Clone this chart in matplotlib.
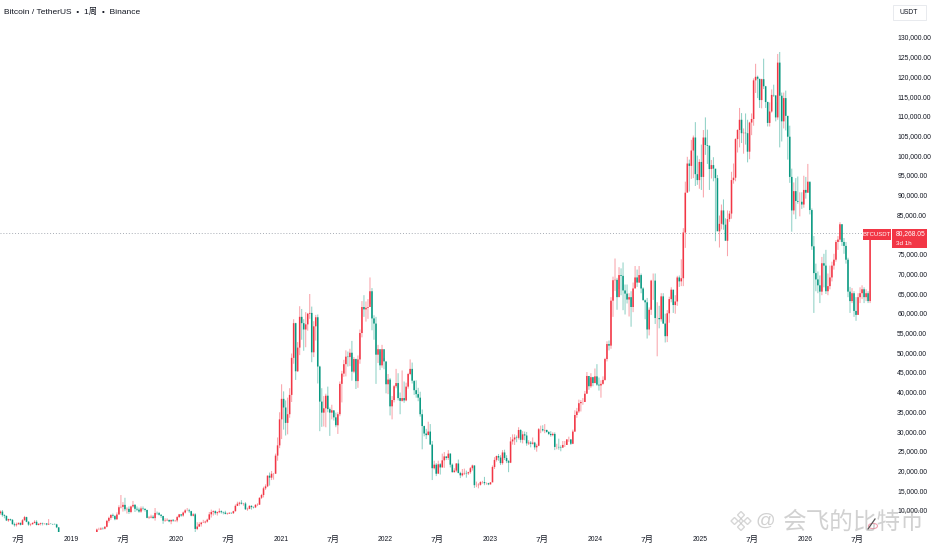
import matplotlib
matplotlib.use("Agg")
import matplotlib.pyplot as plt
import matplotlib.dates as mdates
import numpy as np
import pandas as pd
from matplotlib.patches import Rectangle, Polygon, Circle

# weekly candles, thousand USDT, one row per calendar year
closes = [
    9.6,8.7,8.5,7.35,7.7,7.5,6.4,6.15,6.38,6.75,6.25,7.4,8.2,7.0,6.3,6.4,6.7,7.0,6.2,6.5,6.7,6.6,6.6,6.3,6.5,6.45,6.4,6.35,5.6,3.9,4.0,3.4,3.2,3.9,3.7,4.0,
    3.6,3.5,3.5,3.4,3.6,3.6,3.8,3.8,3.9,3.9,3.95,4.1,5.05,5.07,5.3,5.25,5.75,7.25,8.0,8.75,8.55,7.65,8.85,10.7,10.8,11.3,10.2,10.3,9.5,10.9,11.3,10.3,10.1,9.6,10.4,10.3,10.0,8.0,8.1,8.3,7.95,9.25,9.2,8.8,8.5,7.3,7.4,7.5,7.1,7.5,7.3,7.35,
    8.2,8.9,8.6,9.35,9.9,9.9,9.7,8.55,8.9,5.2,5.8,6.4,6.8,6.85,7.05,7.55,8.9,9.5,9.7,9.2,9.45,9.7,9.45,9.35,9.0,9.1,9.3,9.2,9.7,11.05,11.6,11.85,11.6,11.65,10.2,10.3,11.05,10.75,10.67,11.3,11.35,13.1,13.8,15.5,16.0,18.7,18.2,19.2,19.2,23.8,26.4,33.0,
    38.2,36.0,32.1,34.3,39.2,48.6,57.4,45.2,51.2,59.0,57.4,55.8,57.1,59.8,60.0,50.0,56.6,58.9,46.4,37.5,34.7,35.8,39.0,35.6,34.7,35.3,33.5,31.5,34.3,42.0,44.6,47.0,48.9,48.8,49.9,45.1,48.3,42.7,48.2,54.9,61.5,60.9,61.3,61.5,65.5,58.6,57.3,49.4,50.8,46.7,50.8,47.7,
    41.9,43.1,36.3,37.9,41.4,42.2,38.4,37.7,38.4,37.8,41.3,44.5,45.8,42.8,40.4,39.4,38.5,34.3,31.3,29.4,29.0,29.9,26.6,20.6,21.5,19.2,21.6,20.8,22.6,23.6,23.2,24.3,21.5,19.6,20.0,21.8,19.4,18.8,19.3,19.4,19.3,19.6,20.6,21.3,16.3,16.3,16.4,17.1,17.1,16.8,16.8,16.5,
    17.0,20.9,22.7,23.7,23.3,21.9,24.6,23.2,22.4,22.0,27.4,27.9,28.4,28.3,30.3,27.8,29.2,28.9,26.9,27.1,26.8,27.1,25.9,26.3,30.5,30.5,30.2,30.3,29.8,29.3,29.0,29.3,26.0,26.0,25.9,25.8,26.5,26.5,27.9,27.9,26.8,29.9,34.1,35.0,37.1,37.4,37.4,39.5,44.0,41.4,43.7,42.2,
    43.9,41.8,41.6,42.0,43.0,48.3,52.1,51.7,63.1,68.3,68.4,64.0,69.6,69.4,65.7,64.9,63.4,64.0,61.5,66.2,69.0,67.7,69.6,66.2,63.2,62.7,55.8,60.8,68.2,68.2,58.7,58.7,58.4,64.2,57.3,54.1,59.9,63.5,65.9,62.0,62.9,69.0,68.0,68.8,80.4,90.5,97.9,97.3,101.2,104.5,95.2,93.7,98.3,
    94.5,104.5,102.6,102.4,96.5,97.5,96.6,94.2,80.7,82.6,86.0,82.4,78.3,83.8,85.2,93.7,94.3,104.1,106.4,109.0,105.6,105.7,105.6,100.9,108.3,109.2,119.0,119.9,119.4,114.0,119.3,117.5,113.5,108.2,111.1,115.3,115.2,109.6,123.5,115.1,108.6,114.5,110.0,104.7,94.5,86.0,90.9,88.4,88.2,88.2,87.5,91.2,
    90.5,93.3,86.1,76.9,70.1,68.5,67.0,65.4,72.6,72.0,65.5,66.8,69.0,72.0,73.5,78.0,78.6,82.5,78.0,77.0,73.5,65.4,63.0,65.0,60.5,59.5,64.0,65.0,66.0,64.0,65.0,63.0,80.268,
]
highs = [
    9.9,10.0,8.9,8.6,7.8,7.8,7.7,6.8,6.8,6.8,6.8,7.7,8.5,8.3,7.2,6.6,6.9,7.4,7.4,6.6,6.8,6.8,6.7,6.7,7.7,6.6,6.5,6.6,6.5,5.6,4.4,4.3,3.6,4.2,4.2,4.1,
    3.7,3.7,3.6,3.6,3.7,3.7,4.2,3.9,3.95,4.0,4.1,4.3,5.3,5.5,5.6,5.6,5.9,7.5,8.3,8.9,9.1,8.2,9.4,11.2,13.8,12.0,13.1,10.7,10.9,11.1,12.3,11.5,10.9,10.6,10.9,10.9,10.4,10.1,8.5,8.8,8.7,10.5,9.6,9.5,8.9,8.4,7.9,7.9,7.5,7.5,7.7,7.5,
    8.5,9.0,8.9,9.6,10.2,10.5,10.3,9.8,9.2,9.2,6.9,6.9,7.0,7.5,7.3,7.8,9.5,10.1,9.9,9.9,9.6,10.4,9.9,9.6,9.8,9.3,9.4,9.3,9.8,11.4,12.1,12.1,12.5,11.8,12.0,10.6,11.2,11.2,10.9,11.5,11.7,13.2,14.1,15.9,16.5,18.8,19.5,19.9,19.4,24.3,28.4,34.8,
    41.9,40.1,37.8,38.5,40.9,49.7,58.4,57.5,52.6,61.7,61.0,58.4,60.2,60.0,64.8,61.6,57.9,59.5,59.6,46.6,40.9,38.9,39.5,41.3,36.0,36.7,35.1,34.7,34.8,42.6,45.3,48.1,50.5,50.2,50.9,52.9,48.8,48.4,49.2,55.8,63.0,64.5,62.9,63.5,69.0,66.3,59.4,59.0,51.9,50.2,51.9,48.5,
    47.6,44.5,43.5,38.9,41.7,45.8,44.7,39.8,45.4,42.6,42.3,44.8,48.2,47.4,42.5,42.9,41.0,40.0,35.5,31.4,30.6,32.4,31.8,27.5,22.5,21.9,22.5,21.9,24.3,24.7,23.5,25.2,24.4,21.8,20.6,21.9,22.8,19.7,20.4,20.5,20.0,19.7,20.9,21.5,21.3,17.2,16.8,17.3,17.4,18.4,17.0,16.9,
    17.1,21.3,23.4,23.8,24.2,23.9,25.2,25.3,23.9,22.7,28.5,29.2,29.2,28.9,31.0,30.5,30.0,29.9,29.8,27.7,27.5,28.4,27.3,26.8,30.8,31.4,31.5,31.8,30.4,30.0,30.0,29.7,29.7,26.8,28.1,26.4,27.5,27.5,28.0,28.6,28.0,30.4,35.3,35.9,38.0,37.9,38.4,40.2,45.0,43.4,44.7,43.8,
    45.9,47.0,43.6,42.9,43.9,48.6,52.8,53.0,64.0,69.2,73.8,68.9,71.6,71.3,72.8,67.2,67.2,65.0,65.5,67.7,71.9,71.0,71.9,70.0,66.5,63.4,63.8,61.4,68.4,70.0,70.0,62.7,61.8,65.0,65.0,59.8,60.7,64.1,66.5,65.2,64.5,69.4,69.5,73.6,81.5,93.3,99.6,98.9,103.9,105.0,108.4,99.9,99.0,
    102.7,106.4,109.6,106.5,102.5,98.8,99.5,96.5,95.0,84.7,87.5,88.8,84.0,86.0,85.9,95.8,97.9,104.3,106.6,112.0,110.7,106.8,110.6,109.0,108.5,110.6,119.5,123.2,120.2,119.3,119.4,124.5,117.6,113.6,113.4,116.7,117.9,113.4,125.7,126.2,115.9,115.9,116.4,107.5,107.5,96.6,93.1,94.2,94.6,90.6,90.6,94.8,
    94.5,97.8,93.0,86.5,79.5,72.5,70.5,69.5,74.2,75.0,76.0,70.0,72.0,73.0,75.0,78.5,79.5,83.0,82.5,79.0,78.0,74.0,66.6,66.3,65.5,64.0,65.0,66.5,67.0,66.5,66.0,65.5,81.0,
]
lows = [
    8.8,8.3,7.9,7.2,7.0,7.2,6.3,5.8,5.8,6.3,6.1,6.2,7.3,6.9,6.0,5.9,6.3,6.6,6.1,6.1,6.1,6.1,6.3,6.1,6.3,6.4,6.2,6.3,5.4,3.5,3.5,3.3,3.1,3.2,3.6,3.6,
    3.4,3.4,3.4,3.3,3.4,3.5,3.6,3.7,3.7,3.7,3.8,3.9,4.1,4.9,5.0,5.0,5.1,5.6,6.8,7.5,8.0,7.4,7.5,8.9,10.4,9.6,9.7,9.1,9.0,9.2,10.6,9.5,9.7,9.3,9.3,9.9,9.6,7.9,7.7,7.9,7.8,7.3,8.8,8.6,8.0,6.5,7.0,7.2,6.9,6.4,7.0,7.0,
    6.9,8.0,8.3,8.3,9.1,9.7,9.3,8.4,8.4,3.8,4.9,5.7,5.8,6.7,6.6,6.8,7.5,8.1,8.6,8.8,8.6,9.2,9.1,8.9,8.9,8.8,9.0,9.0,9.0,9.6,11.0,11.1,11.4,11.1,10.0,9.8,10.2,10.1,10.4,10.5,11.0,11.3,12.8,13.2,15.1,15.8,16.2,17.6,17.7,19.2,22.5,25.7,
    28.0,30.4,28.9,29.2,33.4,37.4,47.1,43.0,45.0,49.3,53.2,50.4,51.3,55.5,58.5,47.5,48.8,53.0,42.1,30.0,31.1,31.2,31.0,34.8,28.8,33.0,32.7,31.0,29.3,33.8,37.3,43.8,43.9,46.4,46.5,42.8,44.7,40.7,41.0,47.1,53.8,59.0,57.8,58.5,62.3,55.6,53.2,42.0,47.3,45.5,46.1,45.7,
    39.6,39.4,34.0,33.0,37.3,40.9,37.8,34.3,37.5,37.2,37.6,40.8,44.2,42.1,39.2,38.5,37.6,33.7,25.4,28.7,28.0,29.3,26.6,17.6,20.3,18.6,19.3,19.0,20.8,20.7,22.7,22.7,20.8,19.5,19.5,19.6,19.3,18.1,18.5,18.9,18.2,18.9,19.2,20.0,15.6,15.8,15.5,16.2,16.7,16.3,16.4,16.3,
    16.5,17.2,20.4,22.3,22.5,21.4,21.5,22.7,21.9,19.6,21.9,26.6,26.5,27.2,27.9,27.1,26.9,27.7,26.3,26.5,25.9,26.6,25.3,24.8,26.2,29.5,29.9,29.5,29.6,29.0,28.6,28.7,25.2,25.4,25.3,24.9,26.1,26.0,26.5,27.3,26.5,26.7,29.8,33.4,34.6,35.0,36.7,37.5,39.5,40.5,41.0,41.4,
    42.2,41.5,40.3,38.5,41.8,42.8,47.7,50.5,50.9,59.0,65.6,60.8,66.0,64.5,60.7,59.6,62.4,59.1,56.5,60.2,66.3,66.6,67.6,65.0,63.4,58.4,53.5,54.3,59.5,63.3,57.2,49.0,56.1,57.8,57.2,52.5,52.6,57.5,62.7,60.0,59.8,61.8,66.6,66.8,66.8,76.5,90.8,90.8,94.0,94.2,92.2,92.5,91.5,
    91.2,89.3,100.1,97.8,91.2,94.1,93.4,78.2,81.4,76.6,81.2,81.1,81.2,74.4,83.1,83.9,92.8,93.4,100.7,102.0,103.1,100.4,102.7,98.2,99.0,105.1,107.5,115.8,114.5,112.0,111.9,116.8,112.0,107.3,107.3,110.8,114.8,108.6,109.0,102.0,103.5,106.8,106.3,98.9,93.0,80.6,85.0,83.8,87.7,84.5,86.4,86.7,
    89.0,90.5,85.0,76.0,60.0,65.5,65.0,62.5,64.5,66.5,64.8,64.5,66.0,68.0,71.0,73.0,76.0,78.0,77.0,75.0,72.5,64.0,60.0,62.5,59.0,58.0,59.5,62.5,63.5,62.5,63.0,62.5,62.5,
]
first_open = 9.2
first_week = "2018-04-30"
last_price = 80268.05
price_ticks = list(range(10000, 135000, 5000))
year_ticks = ["2019-01-01", "2020-01-01", "2021-01-01", "2022-01-01", "2023-01-01", "2024-01-01", "2025-01-01", "2026-01-01"]
july_ticks = ["2018-07-01", "2019-07-01", "2020-07-01", "2021-07-01", "2022-07-01", "2023-07-01", "2024-07-01", "2025-07-01", "2026-07-01"]

UP = "#f23645"
DOWN = "#089981"
W, H = 932, 550
plt.rcParams["font.family"] = ["Liberation Sans", "Noto Sans CJK SC"]
axis_size = 4.9


def px(x, y):
    # figure fraction from image pixels
    return x / W, 1 - y / H


dates = pd.date_range(first_week, periods=len(closes), freq="7D")
c = np.array(closes) * 1000
h = np.array(highs) * 1000
l = np.array(lows) * 1000
o = np.r_[first_open * 1000, c[:-1]]
up = c >= o
colors = np.where(up, UP, DOWN)

fig = plt.figure(figsize=(W / 100, H / 100), dpi=100, facecolor="white")
ax = fig.add_axes([0, 18 / H, 893 / W, 532 / H])

wicks = ax.vlines(dates, l, h, colors=colors, lw=0.75, alpha=0.45, zorder=2)
wicks.set_snap(False)
bodies = ax.bar(dates, np.abs(c - o), bottom=np.minimum(c, o), width=5.4, color=colors, lw=0, zorder=3)
for b in bodies:
    b.set_snap(False)
ax.axhline(last_price, color="#a8adb5", lw=0.7, ls=(0, (1, 2)), zorder=1)

# pixel scale of the screenshot: 2019 at x=71, one year is 104.8px
left = mdates.date2num(pd.Timestamp("2019-01-01")) - 71 * 365.25 / 104.8
ax.set_xlim(left, left + 893 * 365.25 / 104.8)
ppx = 5000 / 19.71
ax.set_ylim(10000 - 22 * ppx, 130000 + 37 * ppx)

for s in ax.spines.values():
    s.set_visible(False)
ax.yaxis.tick_right()
ax.set_yticks(price_ticks)
ax.set_yticklabels([f"{v:,.2f}" for v in price_ticks], fontsize=axis_size, color="#131722")
ticks = [mdates.date2num(pd.Timestamp(d)) for d in july_ticks + year_ticks]
ax.set_xticks(ticks)
ax.set_xticklabels(["7月"] * len(july_ticks) + [d[:4] for d in year_ticks], fontsize=axis_size, color="#131722")
for t in ax.get_xticklabels()[:len(july_ticks)]:
    t.set_fontsize(6)
ax.tick_params(axis="both", length=0)
ax.tick_params(axis="y", pad=3)
ax.tick_params(axis="x", pad=3)

fig.text(*px(4, 12), "Bitcoin / TetherUS  •  1周  •  Binance", fontsize=6, color="#131722", va="center")


def box(x0, y0, x1, y1, **kw):
    fig.add_artist(Rectangle(px(x0, y1), (x1 - x0) / W, (y1 - y0) / H, transform=fig.transFigure, **kw))


# USDT box
box(893, 5, 926, 20, fc="white", ec="#e4e6eb", lw=0.6)
fig.text(*px(899, 12.5), "USDT", fontsize=axis_size, color="#131722", va="center")

# last price labels
box(863, 229, 891, 240, fc=UP, ec="none", zorder=5)
box(892, 229, 926.5, 248, fc=UP, ec="none", zorder=5)
fig.text(*px(877, 234.5), "BTCUSDT", fontsize=axis_size - 0.6, color="white", va="center", ha="center", zorder=6)
fig.text(*px(896, 234), f"{last_price:,.2f}", fontsize=axis_size, color="white", va="center", zorder=6)
fig.text(*px(896, 243), "3d 1h", fontsize=axis_size - 0.4, color="white", va="center", zorder=6)

# watermark
grey = "#9a9a9a"
fig.text(*px(783, 522), "会飞的比特币", fontsize=17, color=grey, alpha=0.45, va="center", ha="left", zorder=7)
fig.text(*px(765, 521), "@", fontsize=14, color=grey, alpha=0.45, va="center", ha="center", zorder=7)
cx, cy = 741, 521
for dx, dy, r in [(0, -6, 3.5), (0, 6, 3.5), (-6.5, 0, 3.5), (6.5, 0, 3.5), (0, 0, 2.2)]:
    pts = [px(cx + dx, cy + dy - r), px(cx + dx + r, cy + dy), px(cx + dx, cy + dy + r), px(cx + dx - r, cy + dy)]
    fig.add_artist(Polygon(pts, closed=True, transform=fig.transFigure, fc="none", ec=grey, lw=1.0, alpha=0.4))
# small stamp over the watermark
fig.add_artist(plt.Line2D([px(868, 0)[0], px(875, 0)[0]], [px(0, 529)[1], px(0, 519)[1]], color="#555555", lw=0.9))
fig.add_artist(Circle(px(873, 526), 4.5 / W, transform=fig.transFigure, fc="none", ec="#f0a0b0", lw=0.8))

fig.savefig("out.png", dpi=100)
